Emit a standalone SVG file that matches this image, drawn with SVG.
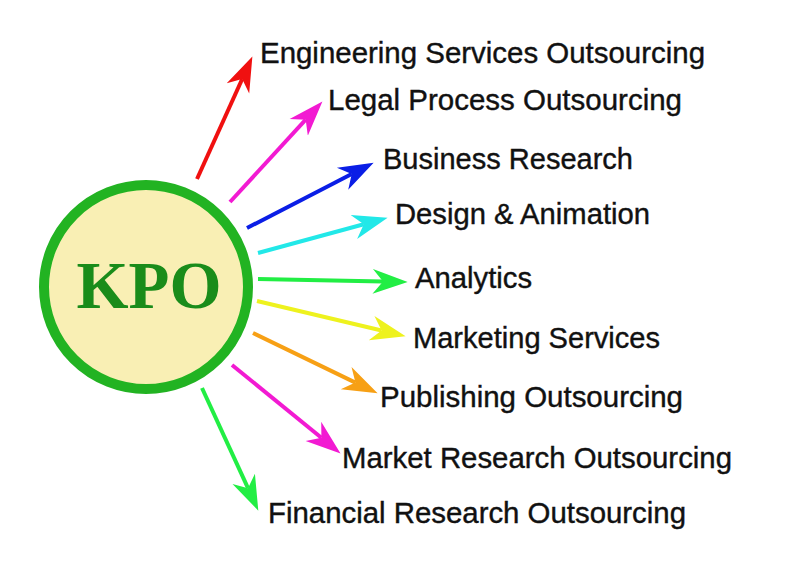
<svg xmlns="http://www.w3.org/2000/svg" width="800" height="578" viewBox="0 0 800 578">
<style>
.lbl{font-family:"Liberation Sans",Arial,sans-serif;font-size:29.5px;fill:#111;stroke:#111;stroke-width:0.4;}
.ar{fill:none;stroke-width:4;stroke-linecap:butt;}
</style>
<defs>
<marker id="mRed" markerUnits="userSpaceOnUse" markerWidth="36" markerHeight="28" viewBox="0 -13 35 26" refX="10" refY="0" orient="auto"><path d="M0,-12 L34,0 L0,12 L10,0 Z" fill="#f01010"/></marker>
<marker id="mMag" markerUnits="userSpaceOnUse" markerWidth="36" markerHeight="28" viewBox="0 -13 35 26" refX="10" refY="0" orient="auto"><path d="M0,-12 L34,0 L0,12 L10,0 Z" fill="#f21ad2"/></marker>
<marker id="mBlue" markerUnits="userSpaceOnUse" markerWidth="36" markerHeight="28" viewBox="0 -13 35 26" refX="10" refY="0" orient="auto"><path d="M0,-12 L34,0 L0,12 L10,0 Z" fill="#0a1ee6"/></marker>
<marker id="mCyan" markerUnits="userSpaceOnUse" markerWidth="36" markerHeight="28" viewBox="0 -13 35 26" refX="10" refY="0" orient="auto"><path d="M0,-12 L34,0 L0,12 L10,0 Z" fill="#22e8e8"/></marker>
<marker id="mGreen" markerUnits="userSpaceOnUse" markerWidth="36" markerHeight="28" viewBox="0 -13 35 26" refX="10" refY="0" orient="auto"><path d="M0,-12 L34,0 L0,12 L10,0 Z" fill="#22ee44"/></marker>
<marker id="mYel" markerUnits="userSpaceOnUse" markerWidth="36" markerHeight="28" viewBox="0 -13 35 26" refX="10" refY="0" orient="auto"><path d="M0,-12 L34,0 L0,12 L10,0 Z" fill="#eef21e"/></marker>
<marker id="mOra" markerUnits="userSpaceOnUse" markerWidth="36" markerHeight="28" viewBox="0 -13 35 26" refX="10" refY="0" orient="auto"><path d="M0,-12 L34,0 L0,12 L10,0 Z" fill="#f7a015"/></marker>
</defs>
<rect width="800" height="578" fill="#ffffff"/>
<g id="connectors">
<line class="ar" x1="197" y1="179" x2="242.2" y2="79" stroke="#f01010" marker-end="url(#mRed)"/>
<line class="ar" x1="230" y1="202" x2="305.7" y2="119.7" stroke="#f21ad2" marker-end="url(#mMag)"/>
<line class="ar" x1="247" y1="228" x2="351.7" y2="174" stroke="#0a1ee6" marker-end="url(#mBlue)"/>
<line class="ar" x1="258" y1="253" x2="363.8" y2="224.3" stroke="#22e8e8" marker-end="url(#mCyan)"/>
<line class="ar" x1="258" y1="279" x2="383" y2="281.5" stroke="#22ee44" marker-end="url(#mGreen)"/>
<line class="ar" x1="257" y1="301" x2="381.6" y2="330.5" stroke="#eef21e" marker-end="url(#mYel)"/>
<line class="ar" x1="253" y1="333" x2="355.4" y2="382.6" stroke="#f7a015" marker-end="url(#mOra)"/>
<line class="ar" x1="232" y1="365" x2="321.4" y2="437.8" stroke="#f21ad2" marker-end="url(#mMag)"/>
<line class="ar" x1="202" y1="388" x2="248" y2="488.2" stroke="#22ee44" marker-end="url(#mGreen)"/>
</g>
<g id="kpo">
<circle cx="146" cy="287" r="102" fill="#f9efb4" stroke="#22b322" stroke-width="10"/>
<text x="149" y="308" text-anchor="middle" font-family="'Liberation Serif','Times New Roman',serif" font-weight="bold" font-size="68" fill="#1a8c1a" textLength="145" lengthAdjust="spacingAndGlyphs">KPO</text>
</g>
<g id="n-engineering"><text class="lbl" x="260" y="63" textLength="445" lengthAdjust="spacingAndGlyphs">Engineering Services Outsourcing</text></g>
<g id="n-legal"><text class="lbl" x="328" y="110" textLength="354" lengthAdjust="spacingAndGlyphs">Legal Process Outsourcing</text></g>
<g id="n-business"><text class="lbl" x="383" y="169" textLength="250" lengthAdjust="spacingAndGlyphs">Business Research</text></g>
<g id="n-design"><text class="lbl" x="395" y="224" textLength="255" lengthAdjust="spacingAndGlyphs">Design &amp; Animation</text></g>
<g id="n-analytics"><text class="lbl" x="415" y="288" textLength="117" lengthAdjust="spacingAndGlyphs">Analytics</text></g>
<g id="n-marketing"><text class="lbl" x="413" y="348" textLength="247" lengthAdjust="spacingAndGlyphs">Marketing Services</text></g>
<g id="n-publishing"><text class="lbl" x="380" y="407" textLength="303" lengthAdjust="spacingAndGlyphs">Publishing Outsourcing</text></g>
<g id="n-market"><text class="lbl" x="342" y="468" textLength="390" lengthAdjust="spacingAndGlyphs">Market Research Outsourcing</text></g>
<g id="n-financial"><text class="lbl" x="268" y="523" textLength="418" lengthAdjust="spacingAndGlyphs">Financial Research Outsourcing</text></g>
</svg>
